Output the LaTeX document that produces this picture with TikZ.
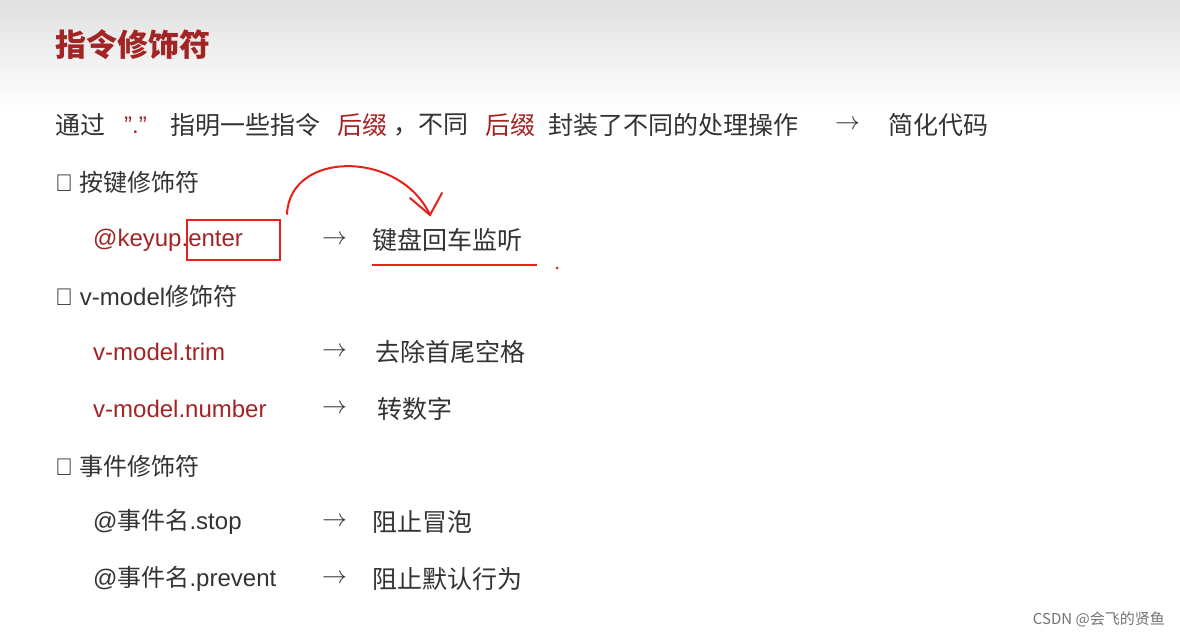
\documentclass[tikz,border=0pt]{standalone}
\usepackage{fontspec}
\setmainfont{Liberation Sans}
\newfontfamily\cjk{Noto Sans CJK SC}
\definecolor{dred}{HTML}{A32424}
\definecolor{tx}{HTML}{333333}
\definecolor{pen}{HTML}{E8201A}
\tikzset{t/.style={anchor=west,inner sep=0pt,text=tx,font=\fontsize{24}{28}\selectfont},
 c/.style={t,font=\fontsize{25}{28}\cjk},
 r/.style={t,text=dred},
 rc/.style={c,text=dred}}
\newcommand{\arr}{$\rightarrow$}
\begin{document}
\begin{tikzpicture}[x=1pt,y=-1pt]
\useasboundingbox (0,0) rectangle (1180,638);
\fill[white] (0,0) rectangle (1180,638);
\shade[top color=black!12,bottom color=white] (0,0) rectangle (1180,110);
\node[anchor=west,inner sep=0pt,text=dred,font=\fontsize{31}{34}\cjk\bfseries] (title) at (55,45) {指令修饰符};
\node[c] (p1) at (55,125) {通过};
\node[r] (p2) at (124,125) {"."};
\node[c] (p3) at (170,125) {指明一些指令};
\node[rc] (p4) at (337,125) {后缀};
\node[c] (p5) at (393,125) {，不同};
\node[rc] (p6) at (485,125) {后缀};
\node[c] (p7) at (548,125) {封装了不同的处理操作};
\node[t] (p8) at (835,125) {\arr};
\node[c] (p9) at (888,125) {简化代码};
\node[t] (h1) at (55,182) {① {\cjk 按键修饰符}};
\node[r] (k1) at (93,240) {@keyup.enter};
\node[t] (a1) at (322,240) {\arr};
\node[c] (d1) at (372,240) {键盘回车监听};
\node[t] (h2) at (55,296) {② v-model{\cjk 修饰符}};
\node[r] (k2) at (93,352) {v-model.trim};
\node[t] (a2) at (322,352) {\arr};
\node[c] (d2) at (375,352) {去除首尾空格};
\node[r] (k3) at (93,409) {v-model.number};
\node[t] (a3) at (322,409) {\arr};
\node[c] (d3) at (377,409) {转数字};
\node[t] (h3) at (55,466) {③ {\cjk 事件修饰符}};
\node[t] (k4) at (93,522) {@{\cjk 事件名}.stop};
\node[t] (a4) at (322,522) {\arr};
\node[c] (d4) at (372,522) {阻止冒泡};
\node[t] (k5) at (93,579) {@{\cjk 事件名}.prevent};
\node[t] (a5) at (322,579) {\arr};
\node[c] (d5) at (372,579) {阻止默认行为};
\node[anchor=east,inner sep=0pt,text=black!55,font=\fontsize{15}{18}\cjk] (wm) at (1165,619) {CSDN @会飞的贤鱼};
\draw[pen,line width=2.5pt] (187,220) rectangle (280,260);
\draw[pen,line width=2pt] (372,265) -- (537,265);
\fill[pen] (557,268) circle (1.5);
\coordinate (c0) at (287,214);
\coordinate (c1) at (430,215);
\draw[pen,line width=2pt,line cap=round] (c0) .. controls (290,150) and (400,150) .. (c1);
\draw[pen,line width=2pt,line cap=round] (410,198) -- (c1) -- (442,193);
\end{tikzpicture}
\end{document}
